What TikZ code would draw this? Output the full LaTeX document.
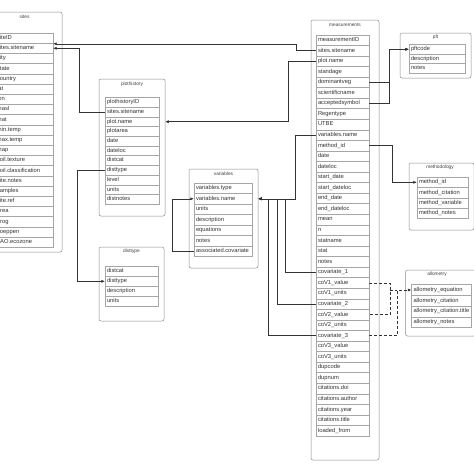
\documentclass[tikz,border=0pt]{standalone}
\usepackage{fontspec}
\setmainfont{Liberation Sans}
\usetikzlibrary{arrows.meta,calc}

\tikzset{
  tablebox/.style={draw=black!45, rounded corners=2pt, line width=0.5pt, inner sep=0pt},
  tabletitle/.style={inner sep=0pt, font=\fontsize{4.8}{5}\selectfont, text=black!75},
  fieldrow/.style 2 args={draw=black!35, line width=0.4pt, inner xsep=2pt, inner ysep=0pt,
    text width=#1, minimum height=#2, align=left, text height=4.2pt, text depth=1.3pt,
    font=\fontsize{5.8}{6.5}\selectfont, text=black!80},
  link/.style={draw=black!80, line width=0.5pt, -{Latex[length=3.5pt,width=3pt]}},
  dashlink/.style={draw=black!80, line width=0.5pt, dash pattern=on 3pt off 2pt},
}

\begin{document}
\begin{tikzpicture}[x=1pt,y=1pt,yscale=-1,xscale=1]
\path[use as bounding box] (0,0) rectangle (474,474);
\clip (0,0) rectangle (474,474);
\fill[white] (0,0) rectangle (474,474);

%Shape: Table sites
\node[tablebox, minimum width=75pt, minimum height=240pt] (sitebox) at (24.5,132) {};
\node[tabletitle] (sitetitle) at (24.5,16.5) {sites};
\foreach \f [count=\i] in {siteID, sites.sitename, city, state, country, lat, lon, masl, mat, min.temp, max.temp, map, soil.texture, soil.classification, site.notes, samples, site.ref, area, prog, koeppen, FAO.ecozone}
  \node[fieldrow={54pt}{10.2pt}] (site\i) at (24,{38.1+10.2*(\i-1)}) {\f};

%Shape: Table plothistory
\node[tablebox, minimum width=66pt, minimum height=137pt] (histbox) at (132,147.5) {};
\node[tabletitle] (histtitle) at (132,84) {plothistory};
\foreach \f [count=\i] in {plothistoryID, sites.sitename, plot.name, plotarea, date, dateloc, distcat, disttype, level, units, distnotes}
  \node[fieldrow={50pt}{9.7pt}] (hist\i) at (132,{102.3+9.7*(\i-1)}) {\f};

%Shape: Table disttype
\node[tablebox, minimum width=65pt, minimum height=74pt] (distbox) at (131.5,284) {};
\node[tabletitle] (disttitle) at (131.5,251.5) {disttype};
\foreach \f [count=\i] in {distcat, disttype, description, units}
  \node[fieldrow={49pt}{10pt}] (dist\i) at (131.5,{271.3+10*(\i-1)}) {\f};

%Shape: Table variables
\node[tablebox, minimum width=69pt, minimum height=99pt] (varbox) at (223.5,218.5) {};
\node[tabletitle] (vartitle) at (223.5,173.5) {variables};
\foreach \f [count=\i] in {variables.type, variables.name, units, description, equations, notes, associated.covariate}
  \node[fieldrow={54pt}{10.5pt}] (var\i) at (223,{188.3+10.5*(\i-1)}) {\f};

%Shape: Table measurements
\node[tablebox, minimum width=68pt, minimum height=440pt] (measbox) at (345,240) {};
\node[tabletitle] (meastitle) at (345,25) {measurements};
\foreach \f [count=\i] in {measurementID, sites.sitename, plot.name, standage, dominantveg, scientificname, acceptedsymbol, Regentype, UTBE, variables.name, method\_id, date, dateloc, start\_date, start\_dateloc, end\_date, end\_dateloc, mean, n, statname, stat, notes, covariate\_1, coV1\_value, coV1\_units, covariate\_2, coV2\_value, coV2\_units, covariate\_3, coV3\_value, coV3\_units, dupcode, dupnum, citations.doi, citations.author, citations.year, citations.title, loaded\_from}
  \node[fieldrow={49pt}{10.56pt}] (meas\i) at (342.5,{40+10.56*(\i-1)}) {\f};

%Shape: Table pft
\node[tablebox, minimum width=71pt, minimum height=45pt] (pftbox) at (435.5,55.5) {};
\node[tabletitle] (pfttitle) at (435.5,37.5) {pft};
\foreach \f [count=\i] in {pftcode, description, notes}
  \node[fieldrow={52pt}{9.5pt}] (pft\i) at (437,{49.3+9.5*(\i-1)}) {\f};

%Shape: Table methodology
\node[tablebox, minimum width=65pt, minimum height=67pt] (methbox) at (441.5,196.5) {};
\node[tabletitle] (methtitle) at (440,167) {methodology};
\foreach \f [count=\i] in {method\_id, method\_citation, method\_variable, method\_notes}
  \node[fieldrow={47pt}{10.3pt}] (meth\i) at (442.5,{182.3+10.3*(\i-1)}) {\f};

%Shape: Table allometry
\node[tablebox, minimum width=70.5pt, minimum height=66pt] (allobox) at (440.75,303) {};
\node[tabletitle] (allotitle) at (437,274.5) {allometry};
\foreach \f [count=\i] in {allometry\_equation, allometry\_citation, allometry\_citation.title, allometry\_notes}
  \node[fieldrow={56pt}{10.7pt}] (allo\i) at (441.5,{290+10.7*(\i-1)}) {\f};

%Straight Lines: keys into sites and plothistory
\draw[link] (hist2.west) -- ++(-26,0) |- (site2.east);
\draw[link] (meas2.west) -- ++(-20,0) |- ($(site2.east)+(0,-4.5)$);
\draw[link] (meas3.west) -- ++(-28,0) |- (histbox.east |- hist3.center);
\draw[link] (hist8.west) -- ++(-28,0) |- (dist2.west);

%Straight Lines: keys into variables
\draw[link] (meas10.west) -- ++(-21,0) |- (varbox.east |- var2.center);
\draw[link] (meas23.west) -- ++(-31,0) |- (varbox.east |- var2.center);
\draw[link] (meas26.west) -- ++(-39,0) |- (varbox.east |- var2.center);
\draw[link] (meas29.west) -- ++(-48,0) |- (varbox.east |- var2.center);
\draw[link] (var7.west) -- ++(-22,0) |- (var2.west);

%Straight Lines: keys into pft and methodology
\draw[link] (meas5.east) -- ++(20,0) |- (pft1.west);
\draw[link] (meas7.east) -- ++(20,0) |- (pft1.west);
\draw[link] (meas11.east) -- ++(23,0) |- (meth1.west);

%Straight Lines: dashed links into allometry
\coordinate (bracket) at ($(meas24.east)+(21,0)$);
\draw[dashlink] (meas24.east) -- (bracket) |- (meas27.east);
\draw[dashlink] (bracket |- allo1.west) -- ++(7,0);
\draw[dashlink, -{Latex[length=3.5pt,width=3pt]}] (meas29.east) -- ++(28,0) |- (allo1.west);

\end{tikzpicture}
\end{document}
